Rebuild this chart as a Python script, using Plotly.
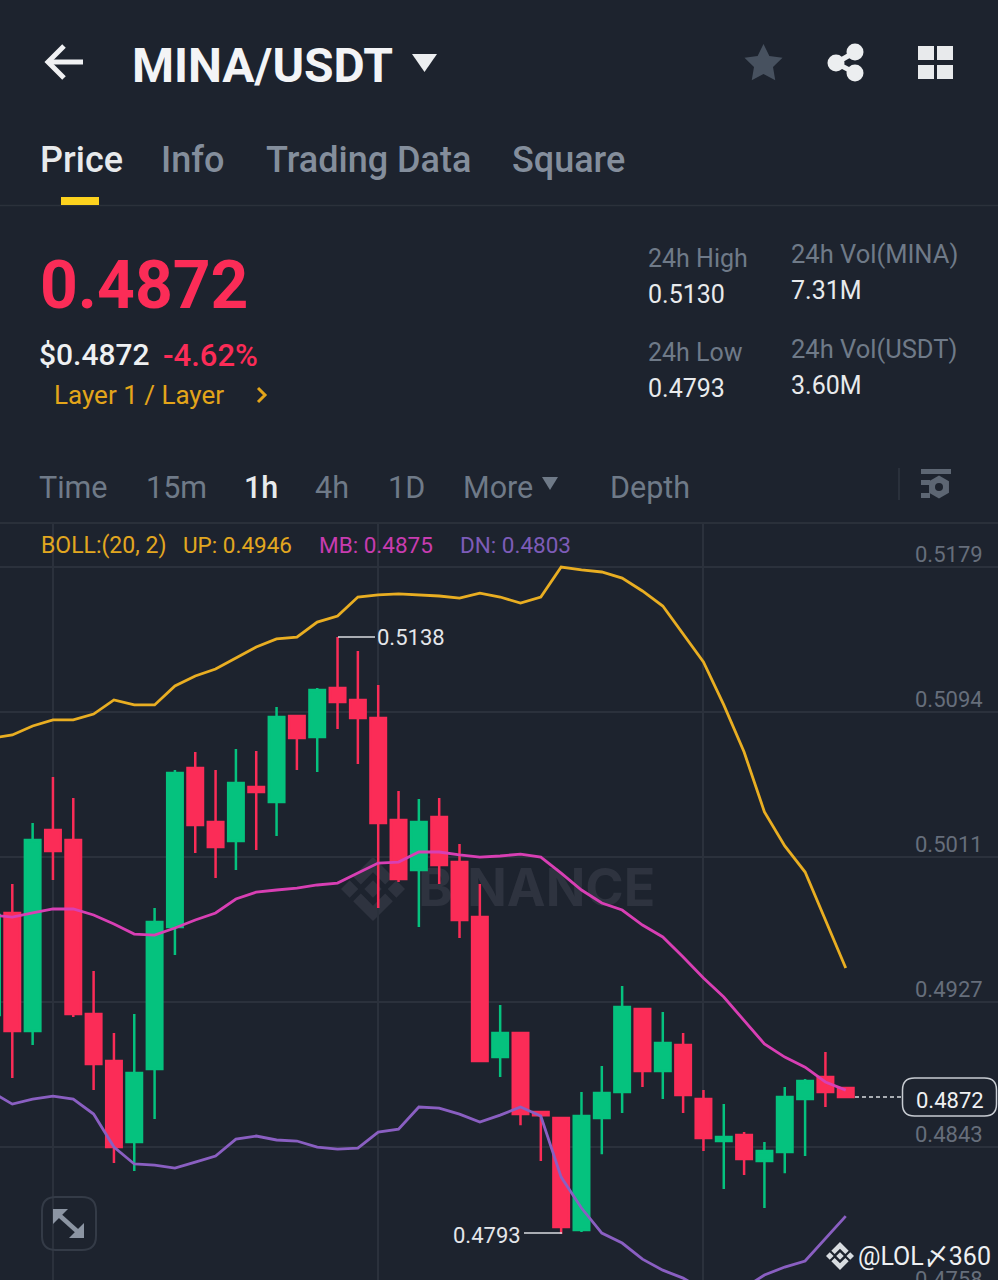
import math

import plotly.graph_objects as go

W, H = 998, 1280
BG = '#1d232e'
GRID = '#2b313c'
RED = '#fb2c57'
GREEN = '#05c27e'
GRAY = '#6f7a88'
FONT = 'Roboto'

# === candles, first one is cut off by the left edge
candle_no = list(range(-1, 42))
open_ = [0.49195, 0.49786, 0.49102, 0.50266, 0.50209, 0.49201, 0.48928, 0.48459, 0.48882, 0.49705, 0.50626,
         0.50313, 0.50203, 0.50516, 0.50429, 0.50927, 0.50805, 0.51089, 0.51020, 0.50915, 0.50324, 0.50035,
         0.50342, 0.50081, 0.49762, 0.48951, 0.49090, 0.48633, 0.48598, 0.47949, 0.48598, 0.48749, 0.49229,
         0.48870, 0.49021, 0.48708, 0.48465, 0.48500, 0.48349, 0.48401, 0.48708, 0.48836, 0.48772]
high = [0.49774, 0.49954, 0.50307, 0.50573, 0.50452, 0.49450, 0.49090, 0.49201, 0.49815, 0.50614, 0.50718,
        0.50614, 0.50736, 0.50724, 0.50979, 0.50927, 0.51089, 0.51384, 0.51303, 0.51106, 0.50492, 0.50446,
        0.50452, 0.50185, 0.49954, 0.49253, 0.49090, 0.48639, 0.48598, 0.48749, 0.48899, 0.49363, 0.49229,
        0.49212, 0.49090, 0.48760, 0.48679, 0.48517, 0.48459, 0.48778, 0.48824, 0.48980, 0.48772]
low = [0.49195, 0.48830, 0.49021, 0.49977, 0.49183, 0.48760, 0.48337, 0.48291, 0.48592, 0.49542, 0.50133,
       0.49988, 0.50035, 0.50151, 0.50232, 0.50614, 0.50602, 0.50852, 0.50649, 0.49815, 0.49965, 0.49705,
       0.49954, 0.49641, 0.48922, 0.48836, 0.48557, 0.48349, 0.47926, 0.47938, 0.48389, 0.48627, 0.48778,
       0.48708, 0.48627, 0.48407, 0.48187, 0.48268, 0.48077, 0.48279, 0.48378, 0.48662, 0.48720]
close = [0.49774, 0.49102, 0.50209, 0.50145, 0.49201, 0.48911, 0.48430, 0.48859, 0.49733, 0.50597, 0.50295,
         0.50168, 0.50539, 0.50487, 0.50921, 0.50799, 0.51077, 0.51008, 0.50915, 0.50307, 0.49983, 0.50313,
         0.50064, 0.49745, 0.48928, 0.49090, 0.48621, 0.48615, 0.47967, 0.48610, 0.48743, 0.49241, 0.48870,
         0.49033, 0.48731, 0.48482, 0.48488, 0.48361, 0.48407, 0.48720, 0.48812, 0.48749, 0.48720]

# === bollinger bands
boll_up = [0.50799, 0.50817, 0.50869, 0.50904, 0.50904, 0.50938, 0.51020, 0.50991, 0.50991, 0.51101, 0.51159,
           0.51199, 0.51263, 0.51327, 0.51373, 0.51384, 0.51471, 0.51506, 0.51616, 0.51628, 0.51634, 0.51628,
           0.51622, 0.51610, 0.51639, 0.51616, 0.51581, 0.51616, 0.51790, 0.51773, 0.51761, 0.51726, 0.51651,
           0.51564, 0.51402, 0.51240, 0.50991, 0.50718, 0.50371, 0.50174, 0.50023, 0.49745, 0.49467]
boll_mb = [0.49774, 0.49762, 0.49786, 0.49809, 0.49809, 0.49774, 0.49722, 0.49664, 0.49658, 0.49699, 0.49745,
           0.49786, 0.49867, 0.49907, 0.49919, 0.49930, 0.49948, 0.49959, 0.50017, 0.50075, 0.50081, 0.50139,
           0.50139, 0.50122, 0.50110, 0.50116, 0.50127, 0.50110, 0.50017, 0.49919, 0.49844, 0.49803, 0.49716,
           0.49647, 0.49531, 0.49409, 0.49299, 0.49166, 0.49027, 0.48951, 0.48893, 0.48807, 0.48760]
boll_dn = [0.48749, 0.48679, 0.48708, 0.48725, 0.48708, 0.48621, 0.48430, 0.48332, 0.48326, 0.48308, 0.48343,
           0.48378, 0.48476, 0.48494, 0.48471, 0.48465, 0.48430, 0.48418, 0.48424, 0.48517, 0.48534, 0.48662,
           0.48656, 0.48621, 0.48575, 0.48615, 0.48662, 0.48610, 0.48256, 0.48077, 0.47932, 0.47874, 0.47781,
           0.47717, 0.47671, 0.47602, 0.47567, 0.47613, 0.47689, 0.47735, 0.47770, 0.47897, 0.48030]

# === axes
grid_prices = [0.5179, 0.5095, 0.5011, 0.4927, 0.4843]
price_labels = ['0.5179', '0.5094', '0.5011', '0.4927', '0.4843', '0.4758']
grid_candles = [2, 18, 34]
x_range = [-0.605, 48.49]
y_range = [0.47660, 0.52039]
y_domain = [0, 756 / H]


def px(x):
    return x / W


def py(y):
    return 1 - y / H


def pt(x, y):
    return f'{px(x):.5f},{py(y):.5f}'


def poly(points, fill):
    d = 'M ' + ' L '.join(pt(x, y) for x, y in points) + ' Z'
    return dict(type='path', xref='paper', yref='paper', path=d, fillcolor=fill, line_width=0)


def stroke(points, color, width, dash='solid'):
    d = 'M ' + ' L '.join(pt(x, y) for x, y in points)
    return dict(type='path', xref='paper', yref='paper', path=d, line=dict(color=color, width=width, dash=dash))


def circle(cx, cy, r, fill):
    return dict(type='circle', xref='paper', yref='paper', x0=px(cx - r), x1=px(cx + r), y0=py(cy + r), y1=py(cy - r),
                fillcolor=fill, line_width=0)


def round_box(x0, y0, x1, y1, r, color, width):
    d = (f'M {pt(x0 + r, y0)} L {pt(x1 - r, y0)} Q {pt(x1, y0)} {pt(x1, y0 + r)} L {pt(x1, y1 - r)} '
         f'Q {pt(x1, y1)} {pt(x1 - r, y1)} L {pt(x0 + r, y1)} Q {pt(x0, y1)} {pt(x0, y1 - r)} L {pt(x0, y0 + r)} '
         f'Q {pt(x0, y0)} {pt(x0 + r, y0)} Z')
    return dict(type='path', xref='paper', yref='paper', path=d, line=dict(color=color, width=width))


def logo(cx, cy, r, color, layer='above'):
    small = 0.27
    parts = [
        [(0, -small), (small, 0), (0, small), (-small, 0)],
        [(-0.73, -small), (-0.73 + small, 0), (-0.73, small), (-0.73 - small, 0)],
        [(0.73, -small), (0.73 + small, 0), (0.73, small), (0.73 - small, 0)],
        [(0, -1), (0.62, -0.38), (0.38, -0.14), (0, -0.52), (-0.38, -0.14), (-0.62, -0.38)],
        [(0, 1), (0.62, 0.38), (0.38, 0.14), (0, 0.52), (-0.38, 0.14), (-0.62, 0.38)],
    ]
    return [dict(poly([(cx + a * r, cy + b * r) for a, b in part], color), layer=layer) for part in parts]


def label(x, y, text, size, color, weight=400, anchor='left', family=FONT):
    fig.add_annotation(x=px(x), y=py(y), xref='paper', yref='paper', text=text, showarrow=False,
                       xanchor=anchor, yanchor='middle', borderpad=0, borderwidth=0,
                       font=dict(family=family, size=size, color=color, weight=weight))


fig = go.Figure()

# watermark sits on the base axes so the candles on the overlay cover it
fig.add_trace(go.Scatter(x=[25.8], y=[0.49901], mode='text', text=['BINANCE'],
                         textfont=dict(family='Inter', size=52, color='#2e333f', weight='bold'),
                         hoverinfo='skip'))

fig.add_trace(go.Candlestick(x=candle_no, open=open_, high=high, low=low, close=close,
                             xaxis='x2', yaxis='y2',
                             increasing=dict(line=dict(color=GREEN, width=2.5), fillcolor=GREEN),
                             decreasing=dict(line=dict(color=RED, width=2.5), fillcolor=RED),
                             hoverinfo='skip'))
for values, color in [(boll_up, '#e9ae22'), (boll_mb, '#d83fb4'), (boll_dn, '#8a5fc2')]:
    fig.add_trace(go.Scatter(x=candle_no, y=values, mode='lines', xaxis='x2', yaxis='y2',
                             line=dict(color=color, width=2.8), hoverinfo='skip'))

shapes = []
shapes += logo(373, 889, 32, '#2e333f', layer='below')

# header icons
shapes.append(stroke([(83, 62), (48, 62)], '#f0f1f3', 5))
shapes.append(stroke([(64, 46), (48, 62), (64, 78)], '#f0f1f3', 5))
shapes.append(poly([(412, 54), (437, 54), (424.5, 72)], '#eceef0'))
star = []
for i in range(10):
    r = 20 if i % 2 == 0 else 10
    a = -math.pi / 2 + i * math.pi / 5
    star.append((763.5 + r * math.cos(a), 64 + r * math.sin(a)))
shapes.append(poly(star, '#47515f'))
shapes.append(stroke([(855, 52), (836, 63), (855, 73)], '#eceef0', 5))
shapes += [circle(855, 52, 8.5, '#eceef0'), circle(836, 63, 8.5, '#eceef0'), circle(855, 73, 8.5, '#eceef0')]
for x0, x1 in [(918, 934), (937, 953)]:
    for y0, y1 in [(46, 60), (65, 79)]:
        shapes.append(poly([(x0, y0), (x1, y0), (x1, y1), (x0, y1)], '#e8eaec'))

# dividers and the tab marker
shapes.append(stroke([(0, 205.5), (W, 205.5)], '#2b313b', 1.5))
shapes.append(poly([(61, 197), (99, 197), (99, 205), (61, 205)], '#fcd21e'))
shapes.append(stroke([(0, 523), (W, 523)], '#2a303a', 2))
shapes.append(stroke([(258, 388), (265, 395), (258, 402)], '#e3a51a', 3))

# toolbar icons
shapes.append(poly([(542, 477), (558, 477), (550, 490)], '#6f7a88'))
shapes.append(stroke([(899, 468), (899, 500)], '#2f3641', 1.5))
shapes.append(poly([(921, 469), (951, 469), (951, 474), (921, 474)], '#5d6673'))
shapes.append(poly([(921, 480), (930, 480), (930, 485), (921, 485)], '#5d6673'))
shapes.append(poly([(921, 493), (930, 493), (930, 498), (921, 498)], '#5d6673'))
hexagon = [(939 + 11.5 * math.cos(math.pi / 6 + i * math.pi / 3), 487 + 11.5 * math.sin(math.pi / 6 + i * math.pi / 3))
           for i in range(6)]
shapes.append(poly(hexagon, '#5d6673'))
shapes.append(circle(939, 487, 4, BG))

# high / low markers and last price
shapes.append(stroke([(338, 637), (375, 637)], '#d8dce0', 1.5))
shapes.append(stroke([(524, 1233), (562, 1233)], '#d8dce0', 1.5))
shapes.append(stroke([(855, 1097), (901, 1097)], '#d8dce0', 1.5, dash='4px,3px'))
shapes.append(round_box(902.5, 1078, 996.5, 1116, 12, '#c8ccd2', 1.5))

# expand button
shapes.append(round_box(42, 1197, 96, 1250, 14, '#343b47', 2))
shapes.append(stroke([(59, 1215), (78, 1232)], '#8c95a3', 4.5))
shapes.append(poly([(53, 1209), (68, 1209), (53, 1224)], '#8c95a3'))
shapes.append(poly([(84, 1238), (69, 1238), (84, 1223)], '#8c95a3'))

shapes += logo(840, 1256, 14, '#d8dce0')

fig.update_layout(
    width=W, height=H, margin=dict(l=0, r=0, t=0, b=0),
    paper_bgcolor=BG, plot_bgcolor=BG, showlegend=False, hovermode=False, boxgap=0.238, boxgroupgap=0,
    shapes=shapes,
    xaxis=dict(domain=[0, 1], range=x_range, tickvals=grid_candles, showticklabels=False, ticks='',
               gridcolor=GRID, gridwidth=1.5, zeroline=False, fixedrange=True),
    yaxis=dict(domain=y_domain, range=y_range, tickvals=grid_prices, showticklabels=False, ticks='',
               gridcolor=GRID, gridwidth=1.5, zeroline=False, fixedrange=True),
    xaxis2=dict(domain=[0, 1], range=x_range, overlaying='x', anchor='y2', visible=False,
                rangeslider=dict(visible=False), fixedrange=True),
    yaxis2=dict(domain=y_domain, range=y_range, overlaying='y', anchor='x2', visible=False, fixedrange=True),
)

# === header text
label(132, 65, 'MINA/USDT', 48, '#f3f4f6', 700)
label(40, 160, 'Price', 36, '#e8eaec', 500)
label(161, 160, 'Info', 36, '#848e9c', 500)
label(266, 160, 'Trading Data', 36, '#848e9c', 500)
label(512, 160, 'Square', 36, '#848e9c', 500)

label(40, 285, '0.4872', 66, RED, 700)
label(39, 354, '$0.4872', 30, '#eef0f2', 500)
label(163, 355, '-4.62%', 31, RED, 500)
label(54, 395, 'Layer 1 / Layer', 26, '#e3a51a')

label(648, 258, '24h High', 25, GRAY)
label(648, 294, '0.5130', 25, '#e8eaec')
label(791, 254, '24h Vol(MINA)', 25.5, GRAY)
label(791, 291, '7.31M', 25, '#e8eaec')
label(648, 352, '24h Low', 25, GRAY)
label(648, 388, '0.4793', 25, '#e8eaec')
label(791, 349, '24h Vol(USDT)', 25.5, GRAY)
label(791, 385, '3.60M', 25, '#e8eaec')

for x, name in [(39, 'Time'), (146, '15m'), (315, '4h'), (388, '1D'), (463, 'More'), (610, 'Depth')]:
    label(x, 487, name, 30.5, GRAY)
label(244, 487, '1h', 30.5, '#e8eaec', 500)

# === chart text
label(41, 545, 'BOLL:(20, 2)', 23, '#e2a720')
label(183, 545, 'UP: 0.4946', 22.5, '#e2a720')
label(319, 545, 'MB: 0.4875', 22.5, '#c83cb0')
label(460, 545, 'DN: 0.4803', 22.5, '#7d5cb8')

for i, text in enumerate(price_labels):
    label(983, 554 + 145 * i, text, 22, '#666e7b', anchor='right')

label(377, 637, '0.5138', 22, '#e4e6ea')
label(453, 1235, '0.4793', 22, '#e4e6ea')
label(949.5, 1100, '0.4872', 22, '#f0f1f3', anchor='center')
label(858, 1256, '@LOL〆360', 25, '#eef0f2', family=f'{FONT}, Noto Sans CJK JP')

fig.write_html('out.html', config={'displayModeBar': False},
               post_script="document.body.style.margin='0';document.body.style.overflow='hidden';")
